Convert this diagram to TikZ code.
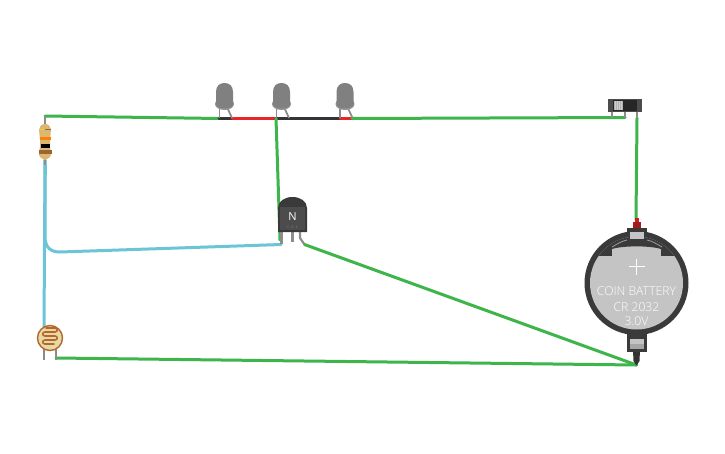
\documentclass[tikz,border=0pt]{standalone}
\usepackage{fontspec}
\setmainfont[UprightFont=* Light,BoldFont=*]{Open Sans}
\usetikzlibrary{calc}
\definecolor{wgreen}{HTML}{3DB54A}
\definecolor{wblue}{HTML}{6CC5D6}
\definecolor{wred}{HTML}{E8262A}
\definecolor{wblack}{HTML}{333338}
\definecolor{leg}{HTML}{8C8C8C}
\definecolor{ledg}{HTML}{808080}
\definecolor{ledd}{HTML}{959595}
\definecolor{bod}{HTML}{DDB670}
\definecolor{ldrc}{HTML}{B9652F}
\definecolor{ldrf}{HTML}{E4DBA4}
\definecolor{bdark}{HTML}{3A3A3A}
\definecolor{bgray}{HTML}{C4C4C4}
\tikzset{
  x=1pt,y=-1pt,
  wire/.style={line width=3pt,line cap=round,line join=round},
  gw/.style={wire,wgreen},
  bw/.style={wire,wblue},
  rw/.style={wire,wred},
  kw/.style={wire,wblack},
  legw/.style={line width=2.2pt,leg},
  pt/.style={inner sep=0pt,minimum size=0pt},
  battxt/.style={text=white,font=\fontsize{12.2}{13}\selectfont,inner sep=0pt,align=center},
}
\newcommand{\ledshape}[1]{%
  \begin{scope}[shift={(#1,0)}]
  \draw[legw,line width=1.8pt] (4,106)--(4,118);
  \draw[legw,line width=1.8pt] (11,106)--(16.5,118);
  \fill[ledd] (9,104) ellipse (9.5 and 6);
  \fill[ledg] (0.5,92) .. controls (0.5,86) and (4,83) .. (9,83)
     .. controls (14,83) and (17.5,86) .. (17.5,92) -- (17.5,104)
     .. controls (17.5,110) and (0.5,110) .. (0.5,104) -- cycle;
  \end{scope}
}
\begin{document}
\begin{tikzpicture}
\useasboundingbox (0,0) rectangle (725,453);
\fill[white] (0,0) rectangle (725,453);

% terminals
\coordinate (resTop) at (45,116);
\coordinate (resBot) at (45,160);
\coordinate (led1a) at (219,118.5);
\coordinate (led1c) at (232,118.5);
\coordinate (led2a) at (276,118.5);
\coordinate (led2c) at (288,118.5);
\coordinate (led3a) at (340,118.5);
\coordinate (led3c) at (352,118.5);
\coordinate (swA) at (625,117.5);
\coordinate (swB) at (637,118);
\coordinate (batP) at (636,220);
\coordinate (batN) at (636.5,365);
\coordinate (trC) at (281,244.5);
\coordinate (trB) at (280,240);
\coordinate (trE) at (304.5,244.5);
\coordinate (ldrA) at (44,331);
\coordinate (ldrB) at (56,358);

% wires
\draw[gw] (resTop)--(led1a);
\draw[kw] (led1a)--(led1c);
\draw[rw] (led1c)--(led2a);
\draw[kw] (led2c)--(led3a);
\draw[kw] (led2a)--(led2c);
\draw[rw] (led3a)--(led3c);
\draw[gw] (led3c)--(swA);
\draw[gw] (swB)--(batP);
\draw[gw] (led2a)--(trB);
\draw[gw] (trE)--(batN);
\draw[gw] (ldrB)--(batN);
\draw[bw] (resBot)--(ldrA);
\draw[bw] (resBot)--(45,236) .. controls (45,247) and (50,252) .. (60,252)--(trC);

% LEDs
\ledshape{215.5}
\ledshape{272.5}
\ledshape{336}
\node[pt] (led1) at (224,95) {};
\node[pt] (led2) at (281,95) {};
\node[pt] (led3) at (345,95) {};

% resistor
\draw[legw] (45,116)--(45,166);
\fill[wblue] (43.5,165) rectangle (46.5,175);
\fill[bod] (45,124) .. controls (41,124) and (39,127) .. (39,130)
  .. controls (39,134) and (40,135) .. (40,139) -- (40,146)
  .. controls (40,149) and (39,151) .. (39,154)
  .. controls (39,157) and (42,159) .. (45,160)
  .. controls (48,159) and (51,157) .. (51,154)
  .. controls (51,151) and (50,149) .. (50,146) -- (50,139)
  .. controls (50,135) and (51,134) .. (51,130)
  .. controls (51,127) and (49,124) .. (45,124) -- cycle;
\fill[bod!70!yellow] (39.5,128.8) rectangle (45,130.2);
\fill[bod!60!black] (45,128.8) rectangle (51,130.2);
\fill[orange] (40,136.5) rectangle (51,140);
\fill[black] (41,143.5) rectangle (50,147.5);
\fill[brown!80!black] (39,150) rectangle (51.5,153.5);
\node[pt] (res) at (45,142) {};

% LDR
\draw[legw] (44,345)--(44,360);
\draw[legw] (56,345)--(56,360);
\node[circle,draw=ldrc,fill=ldrf,line width=1.4pt,minimum size=25pt,inner sep=0pt] (ldr) at (50,338) {};
\draw[ldrc,line width=1.6pt,line cap=round,line join=round]
  (46,328) -- (55,328) .. controls (58,328) and (58,332) .. (55,332) -- (45,332)
  .. controls (42,332) and (42,336) .. (45,336) -- (55,336)
  .. controls (58,336) and (58,340) .. (55,340) -- (45,340)
  .. controls (42,340) and (42,344) .. (45,344) -- (54,344);

% transistor
\draw[legw] (281.5,232)--(281.5,244);
\draw[legw] (292.5,232)--(292.5,242);
\draw[legw] (300,232)--(300,238)--(304.5,244.5);
\fill[bdark] (278,232) -- (278,208) .. controls (278,201) and (285,197) .. (292.5,197)
  .. controls (300,197) and (307,201) .. (307,208) -- (307,232) -- cycle;
\fill[black!70!white] (280,207) rectangle (305,230);
\node[text=white,font=\fontsize{11}{12}\selectfont\bfseries,inner sep=0pt] (tr) at (292.5,217) {N};
\node[text=white!65!black,font=\fontsize{3}{4}\selectfont,inner sep=0pt] (trl) at (292.5,227) {C\ \ \ B\ \ \ E};

% switch
\draw[legw] (612,108)--(612,118);
\draw[legw] (625,108)--(625,118);
\draw[legw] (637,108)--(637,118);
\fill[gray!60!black] (608,99) rectangle (642,112);
\fill[black!85!white] (613,100) rectangle (637,111);
\fill[gray!60!white] (613.5,101) rectangle (623,110);
\foreach \xx in {615,617,619,621} \draw[gray!40!white,line width=.6pt] (\xx,101)--(\xx,110);
\node[pt] (sw) at (625,105) {};

% battery
\fill[wred!85!black] (634.5,218) rectangle (638.5,223);
\fill[wred!70!black] (632.5,222) rectangle (640.5,228);
\fill[black!80!white] (633,350) -- (640,350) -- (639.5,361) -- (637,365) -- (636,365) -- (633.5,361) -- cycle;
\fill[bdark] (636.5,283) circle (52);
\fill[bdark] (627,228) rectangle (647,240);
\fill[bdark] (627,326) rectangle (647,352);
\begin{scope}
\clip (636.5,283) circle (46.5);
\fill[bgray] (585,225) rectangle (689,345);
\fill[bdark] (585,225) rectangle (612,256);
\fill[bdark] (661,225) rectangle (689,256);
\fill[bdark] (612,225) -- (661,225) -- (661,249) .. controls (650,245.5) and (623,245.5) .. (612,249) -- cycle;
\end{scope}
\draw[bgray!80!black,line width=.8pt] (612,247) .. controls (618,243.5) and (622,241) .. (627,240);
\draw[bgray!80!black,line width=.8pt] (647,240) .. controls (652,241) and (656,243.5) .. (662,247);
\fill[bgray] (630,232) rectangle (644,238.5);
\fill[bgray] (630,339) rectangle (644,345);
\fill[gray!70!white] (630,344) rectangle (644,349);
\node[pt] (bat) at (636.5,283) {};
\draw[white,line width=.5pt] (636.7,258.5)--(636.7,275) (628.5,266.7)--(645,266.7);
\node[battxt] (bt1) at (636.5,291) {COIN BATTERY};
\node[battxt] (bt2) at (636.5,306.7) {CR 2032};
\node[battxt] (bt3) at (636.5,321) {3.0V};
\end{tikzpicture}
\end{document}
